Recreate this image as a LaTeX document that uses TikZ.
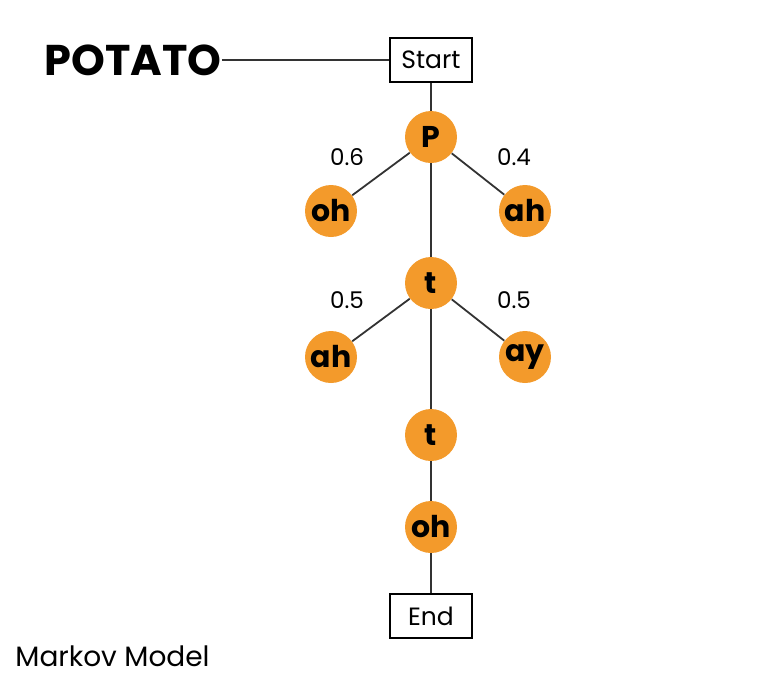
\documentclass[tikz,border=0pt]{standalone}
\usepackage{fontspec}
\setmainfont{Poppins}
\usepackage{xcolor}
\usetikzlibrary{positioning}

\definecolor{stateorange}{HTML}{F39A2B}

\tikzset{
  state/.style={circle, fill=stateorange, minimum size=26pt, inner sep=0pt,
    font=\fontsize{15}{15}\selectfont\bfseries},
  endbox/.style={draw, line width=0.9pt, minimum width=41pt, minimum height=22pt,
    inner sep=0pt, font=\fontsize{12.5}{12.5}\selectfont},
  link/.style={line width=0.9pt, draw=black!80},
  prob/.style={font=\fontsize{11.5}{11.5}\selectfont}
}

\begin{document}
\begin{tikzpicture}[x=0.5pt, y=-0.5pt]

\useasboundingbox (0,0) rectangle (768,682);

% boxes and word
\node[endbox] (start) at (431,60)  {Start};
\node[endbox] (end)   at (431,616) {End};
\node[font=\fontsize{21.5}{21.5}\selectfont\bfseries, inner sep=0pt] (word) at (133,60) {POTATO};

% states
\node[state] (p)   at (431,137) {P};
\node[state] (oha) at (331,211) {oh};
\node[state] (aha) at (525,211) {ah};
\node[state] (ta)  at (431,283) {t};
\node[state] (ahb) at (331,357) {ah};
\node[state] (ay)  at (525,357) {ay};
\node[state] (tb)  at (431,435) {t};
\node[state] (ohb) at (431,527) {oh};

% links
\draw[link] (word) -- (start);
\draw[link] (start) -- (p) -- (ta) -- (tb) -- (ohb) -- (end);
\draw[link] (p) -- (oha);
\draw[link] (p) -- (aha);
\draw[link] (ta) -- (ahb);
\draw[link] (ta) -- (ay);

% probabilities
\node[prob] (pa) at (347,157) {0.6};
\node[prob] (pb) at (514,157) {0.4};
\node[prob] (pc) at (347,300) {0.5};
\node[prob] (pd) at (514,300) {0.5};

\node[font=\fontsize{14}{14}\selectfont, anchor=west, inner sep=0pt] (title) at (15,656) {Markov Model};

\end{tikzpicture}
\end{document}
